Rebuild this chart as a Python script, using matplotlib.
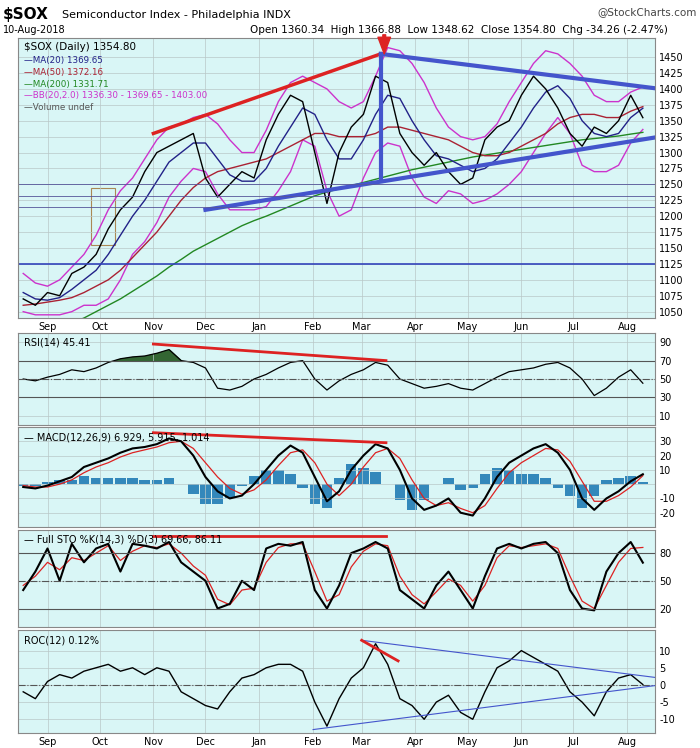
import numpy as np
import pandas as pd
import matplotlib
matplotlib.use('Agg')
import matplotlib.pyplot as plt
import matplotlib.dates as mdates

# weekly readings (Aug 2017 - Aug 2018)
weeks = pd.date_range('2017-08-18', periods=52, freq='W-FRI')
close = [1070,1060,1080,1075,1110,1120,1140,1180,1210,1230,1270,1300,1310,1320,1330,1260,1230,1250,1270,1260,
         1320,1360,1390,1380,1300,1220,1300,1340,1360,1420,1410,1330,1300,1280,1300,1270,1250,1260,1320,1340,
         1350,1390,1420,1400,1370,1330,1310,1340,1330,1350,1390,1354.8]
ma20 = [1080,1070,1068,1072,1085,1100,1115,1140,1170,1200,1225,1255,1285,1300,1315,1315,1290,1265,1255,1255,
        1275,1310,1340,1370,1360,1320,1290,1290,1320,1360,1390,1385,1350,1320,1295,1290,1280,1270,1275,1290,
        1315,1340,1370,1395,1405,1385,1350,1330,1325,1330,1355,1369.65]
ma50 = [1060,1062,1065,1068,1072,1080,1090,1100,1115,1135,1155,1175,1200,1225,1245,1260,1270,1275,1280,1285,
        1290,1300,1310,1320,1330,1330,1325,1325,1325,1330,1340,1340,1335,1330,1325,1320,1310,1300,1295,1295,
        1300,1310,1320,1330,1345,1355,1360,1360,1355,1355,1365,1372.16]
ma200 = [1000,1008,1016,1024,1032,1040,1050,1060,1070,1082,1094,1106,1120,1132,1145,1155,1165,1175,1185,1193,
         1200,1208,1216,1224,1232,1238,1243,1248,1253,1258,1263,1268,1273,1277,1281,1285,1289,1293,1296,1299,
         1302,1305,1308,1311,1314,1317,1320,1322,1324,1326,1329,1331.71]
bb_up = [1110,1095,1090,1100,1120,1140,1170,1210,1240,1260,1290,1320,1340,1345,1355,1360,1345,1320,1300,1300,
         1335,1380,1410,1420,1410,1400,1380,1370,1380,1420,1465,1460,1440,1410,1370,1340,1325,1320,1325,1345,
         1380,1410,1440,1460,1455,1440,1420,1390,1380,1380,1395,1403]
bb_lo = [1050,1045,1045,1045,1050,1060,1060,1070,1100,1140,1160,1190,1230,1255,1275,1270,1235,1210,1210,1210,
         1215,1240,1270,1320,1310,1240,1200,1210,1260,1300,1315,1310,1260,1230,1220,1240,1235,1220,1225,1235,
         1250,1270,1300,1330,1355,1330,1280,1270,1270,1280,1315,1336.3]
rsi = [50,48,52,55,60,58,62,68,72,74,75,78,82,70,68,62,40,38,42,50,55,62,68,70,50,38,48,55,60,68,65,50,45,40,
       42,45,40,38,45,52,58,60,62,66,68,62,50,32,40,52,60,45.41]
macd = [-2,-3,-1,2,5,12,15,18,22,25,26,28,32,30,20,5,-5,-10,-8,0,10,20,27,22,5,-12,-5,10,20,28,25,10,-10,-18,
        -15,-10,-20,-22,-10,5,15,20,25,28,22,10,-10,-18,-10,-5,2,6.929]
signal = [-1,-2,-2,0,3,8,12,15,19,22,24,26,29,30,25,15,5,-3,-7,-4,3,13,22,24,15,0,-8,0,12,22,25,18,3,-10,-15,
          -13,-17,-20,-15,-3,8,15,20,25,24,16,2,-12,-12,-8,-2,5.915]
sto_k = [40,60,85,50,90,70,85,90,60,90,88,85,92,70,60,50,20,25,50,40,85,90,88,92,40,20,45,80,85,92,85,40,30,20,
         45,60,40,20,55,85,90,85,90,92,80,40,20,18,60,80,92,69.66]
sto_d = [45,55,70,62,75,72,80,88,72,82,88,86,90,80,66,56,30,24,40,42,70,86,90,90,60,28,35,65,82,90,88,55,35,25,
         38,52,45,28,45,75,88,86,88,90,85,55,28,20,45,70,85,86.11]
roc = [-2,-4,1,3,2,4,5,6,4,5,3,5,4,-2,-4,-6,-7,-2,2,3,5,6,6,4,-5,-12,-4,2,5,12,6,-4,-6,-10,-5,-3,-8,-10,-2,5,
       7,10,8,6,4,-2,-5,-9,-2,2,3,0.12]

bg = '#d9f6f6'
fig = plt.figure(figsize=(7, 7.48), dpi=100)
W = 700.; H = 748.
def box(top, bot):
    return [18/W, 1-bot/H, (655-18)/W, (bot-top)/H]
ax0 = fig.add_axes(box(38, 318))
ax1 = fig.add_axes(box(333, 425), sharex=ax0)
ax2 = fig.add_axes(box(427, 527), sharex=ax0)
ax3 = fig.add_axes(box(530, 627), sharex=ax0)
ax4 = fig.add_axes(box(630, 733), sharex=ax0)
axes = [ax0, ax1, ax2, ax3, ax4]
for a in axes:
    a.set_facecolor(bg)
    a.yaxis.tick_right()
    a.tick_params(labelsize=7, length=0, pad=3)
    a.grid(True, color='#b8c8c8', lw=0.5)
    for s in a.spines.values():
        s.set_color('#888888')
    a.xaxis.set_major_locator(mdates.MonthLocator())
    a.xaxis.set_major_formatter(mdates.DateFormatter('%b'))
for a in axes[1:4]:
    plt.setp(a.get_xticklabels(), visible=False)
ax0.set_xlim(pd.Timestamp('2017-08-15'), pd.Timestamp('2018-08-17'))
ax0.xaxis.set_tick_params(labelbottom=True)
ax4.xaxis.set_tick_params(labelbottom=True)

def d(s):
    return pd.Timestamp(s)

# price panel
ax0.plot(weeks, bb_up, color='#cc33cc', lw=1)
ax0.plot(weeks, bb_lo, color='#cc33cc', lw=1)
ax0.plot(weeks, ma200, color='#228822', lw=1)
ax0.plot(weeks, ma50, color='#aa2233', lw=1)
ax0.plot(weeks, ma20, color='#222288', lw=1)
ax0.plot(weeks, close, color='black', lw=1)
ax0.set_ylim(1040, 1480)
ax0.set_yticks(range(1050, 1451, 25))
ax0.plot([d('2017-11-01'), d('2018-03-12')], [1330, 1455], color='#dd2222', lw=2.5)
ax0.plot([d('2018-03-12'), d('2018-08-20')], [1455, 1400], color='#4455cc', lw=3)
ax0.plot([d('2018-03-12'), d('2018-03-12')], [1255, 1455], color='#4455cc', lw=3)
ax0.plot([d('2017-12-01'), d('2018-08-20')], [1210, 1325], color='#4455cc', lw=3)
for lv in [1250, 1232, 1215]:
    ax0.axhline(lv, color='#555599', lw=0.6)
ax0.axhline(1125, color='#3344bb', lw=1.2)
ax0.add_patch(plt.Rectangle((mdates.date2num(d('2017-09-26')), 1155), 14, 90,
                            fill=False, ec='#aa8855', lw=0.8))
ax0.annotate('', xy=(d('2018-03-14'), 1455), xytext=(d('2018-03-14'), 1485),
             arrowprops=dict(color='#dd2222', width=2, headwidth=9), annotation_clip=False)
ax0.text(0.01, 0.985, '$SOX (Daily) 1354.80', transform=ax0.transAxes, fontsize=7.5, va='top')
leg = [('MA(20) 1369.65', '#222288'), ('MA(50) 1372.16', '#aa2233'), ('MA(200) 1331.71', '#228822'),
       ('BB(20,2.0) 1336.30 - 1369.65 - 1403.00', '#cc33cc'), ('Volume undef', '#555555')]
for i, (t, c) in enumerate(leg):
    ax0.text(0.01, 0.935 - i*0.042, '\u2014' + t, transform=ax0.transAxes, fontsize=6.3, color=c, va='top')

# RSI
ax1.plot(weeks, rsi, color='black', lw=0.9)
ax1.fill_between(weeks, rsi, 70, where=np.array(rsi) > 70, color='#336633', interpolate=True)
ax1.axhline(70, color='#555555', lw=0.8); ax1.axhline(30, color='#555555', lw=0.8)
ax1.axhline(50, color='#555555', lw=0.8, ls='-.')
ax1.plot([d('2017-11-01'), d('2018-03-15')], [88, 70], color='#dd2222', lw=2)
ax1.set_ylim(0, 100); ax1.set_yticks([10, 30, 50, 70, 90])
ax1.text(0.01, 0.95, 'RSI(14) 45.41', transform=ax1.transAxes, fontsize=7, va='top')

# MACD
hist = np.array(macd) - np.array(signal)
ax2.bar(weeks, hist * 1.4, width=6, color='#3388bb')
ax2.plot(weeks, signal, color='#dd2222', lw=0.9)
ax2.plot(weeks, macd, color='black', lw=1.5)
ax2.plot([d('2017-11-01'), d('2018-03-15')], [36, 29], color='#dd2222', lw=2)
ax2.set_ylim(-30, 40); ax2.set_yticks([-20, -10, 0, 10, 20, 30])
ax2.set_yticklabels(['-20', '-10', '', '10', '20', '30'])
ax2.text(0.01, 0.95, '\u2014 MACD(12,26,9) 6.929, 5.915, 1.014', transform=ax2.transAxes, fontsize=7, va='top')

# STO
ax3.plot(weeks, sto_d, color='#dd2222', lw=0.9)
ax3.plot(weeks, sto_k, color='black', lw=1.5)
ax3.axhline(80, color='#555555', lw=0.8); ax3.axhline(20, color='#555555', lw=0.8)
ax3.axhline(50, color='#555555', lw=0.8, ls='-.')
ax3.plot([d('2017-11-01'), d('2018-03-15')], [98, 98], color='#dd2222', lw=2)
ax3.set_ylim(0, 105); ax3.set_yticks([20, 50, 80])
ax3.text(0.01, 0.95, '\u2014 Full STO %K(14,3) %D(3) 69.66, 86.11', transform=ax3.transAxes, fontsize=7, va='top')

# ROC
ax4.plot(weeks, roc, color='black', lw=1)
ax4.axhline(0, color='#555555', lw=0.8, ls='-.')
ax4.plot([d('2018-03-01'), d('2018-08-20')], [13, 2], color='#4455cc', lw=0.8)
ax4.plot([d('2018-02-01'), d('2018-08-20')], [-13, 0], color='#4455cc', lw=0.8)
ax4.plot([d('2018-03-01'), d('2018-03-22')], [13, 7], color='#dd2222', lw=2)
ax4.set_ylim(-14, 16); ax4.set_yticks([-10, -5, 0, 5, 10])
ax4.set_yticklabels(['-10', '-5', '0', '5', '10'])
ax4.text(0.01, 0.95, 'ROC(12) 0.12%', transform=ax4.transAxes, fontsize=7, va='top')

fig.text(3/W, 1-15/H, '$SOX', fontsize=11, fontweight='bold', va='center')
fig.text(62/W, 1-15/H, 'Semiconductor Index - Philadelphia INDX', fontsize=8, va='center')
fig.text(3/W, 1-30/H, '10-Aug-2018', fontsize=7, va='center')
fig.text(250/W, 1-30/H, 'Open 1360.34  High 1366.88  Low 1348.62  Close 1354.80  Chg -34.26 (-2.47%)',
         fontsize=7.5, va='center')
fig.text(697/W, 1-12/H, '@StockCharts.com', fontsize=7.5, va='center', ha='right', color='#444444')
fig.savefig('out.png', dpi=100)
